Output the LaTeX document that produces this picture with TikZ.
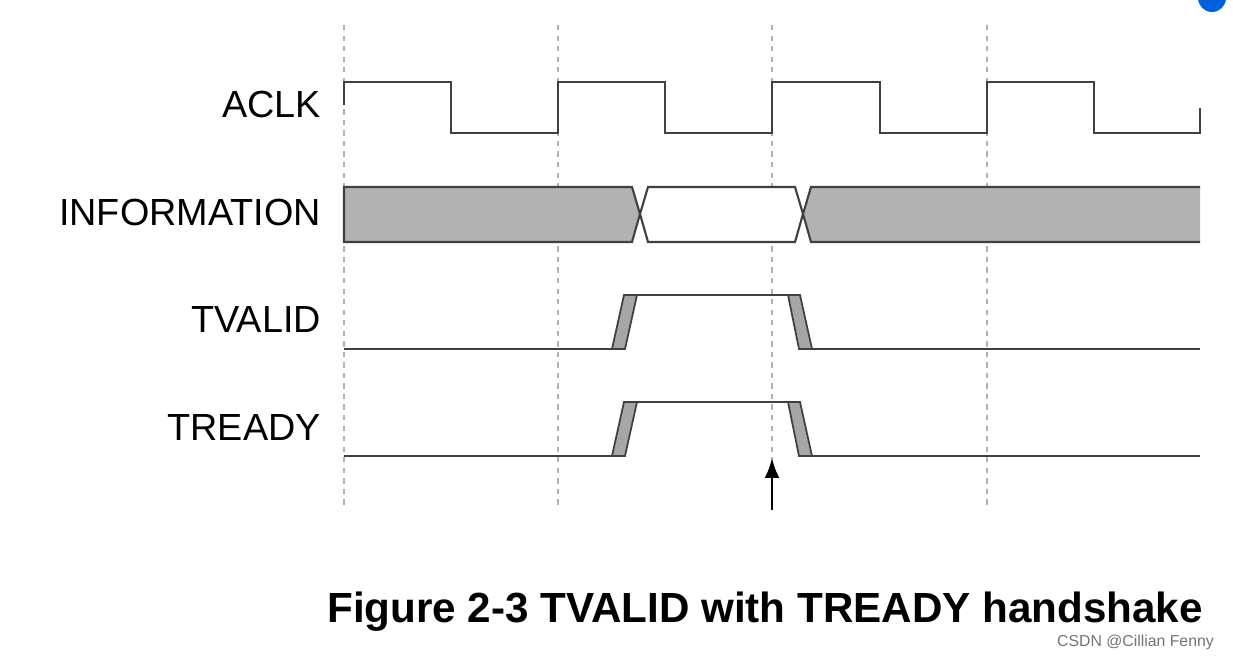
\documentclass[tikz,border=0pt]{standalone}
\usepackage{fontspec}
\setmainfont{Liberation Sans}
\usetikzlibrary{arrows.meta}
\begin{document}
\begin{tikzpicture}[x=0.02cm,y=-0.02cm,
  sig/.style={draw=black!75,line width=1.2pt},
  grid/.style={draw=black!30,dashed,line width=0.6pt},
  lbl/.style={anchor=east,font=\fontsize{21.5}{26}\selectfont},
  edge/.style={fill=black!35,draw=black!75,line width=1pt}]
  \useasboundingbox (0,0) rectangle (1233,661);
  \fill[blue!55!cyan!85!black] (1212,-2) circle (14);
  % clock edges
  \foreach \x in {344,558,772,987}
    \draw[grid] (\x,25) -- (\x,505);
  % labels
  \node[lbl] (aclk) at (327,105) {ACLK};
  \node[lbl] (info) at (327,213) {INFORMATION};
  \node[lbl] (tvalid) at (327,320) {TVALID};
  \node[lbl] (tready) at (327,428) {TREADY};
  % ACLK
  \draw[sig] (344,105) -- (344,82) -- (451,82) -- (451,133) -- (558,133) -- (558,82)
    -- (665,82) -- (665,133) -- (772,133) -- (772,82) -- (880,82) -- (880,133)
    -- (987,133) -- (987,82) -- (1094,82) -- (1094,133) -- (1200,133) -- (1200,108);
  % INFORMATION
  \draw[sig,fill=black!30] (344,187) -- (632,187) -- (640,214) -- (632,242) -- (344,242) -- cycle;
  \draw[sig,fill=white] (640,214) -- (648,187) -- (795,187) -- (803,214) -- (795,242) -- (648,242) -- cycle;
  \draw[sig,fill=black!30] (1200,187) -- (811,187) -- (803,214) -- (811,242) -- (1200,242);
  % TVALID and TREADY
  \foreach \y in {349,456} {
    \draw[sig] (344,\y) -- (612,\y);
    \draw[edge] (612,\y) -- (625,\y) -- (637,\y-54) -- (624,\y-54) -- cycle;
    \draw[sig] (637,\y-54) -- (788,\y-54);
    \draw[edge] (788,\y-54) -- (800,\y-54) -- (812,\y) -- (799,\y) -- cycle;
    \draw[sig] (812,\y) -- (1200,\y);
  }
  % handshake
  \coordinate (hsbot) at (772,510);
  \coordinate (hstop) at (772,458);
  \draw[line width=1.5pt,-{Latex[length=4mm,width=3mm]}] (hsbot) -- (hstop);
  \node[font=\bfseries\fontsize{24}{29}\selectfont,anchor=east] (cap) at (1209,612) {Figure 2-3 TVALID with TREADY handshake};
  \node[font=\fontsize{9}{11}\selectfont,text=black!55,anchor=east] (mark) at (1220,642) {CSDN @Cillian Fenny};
\end{tikzpicture}
\end{document}
